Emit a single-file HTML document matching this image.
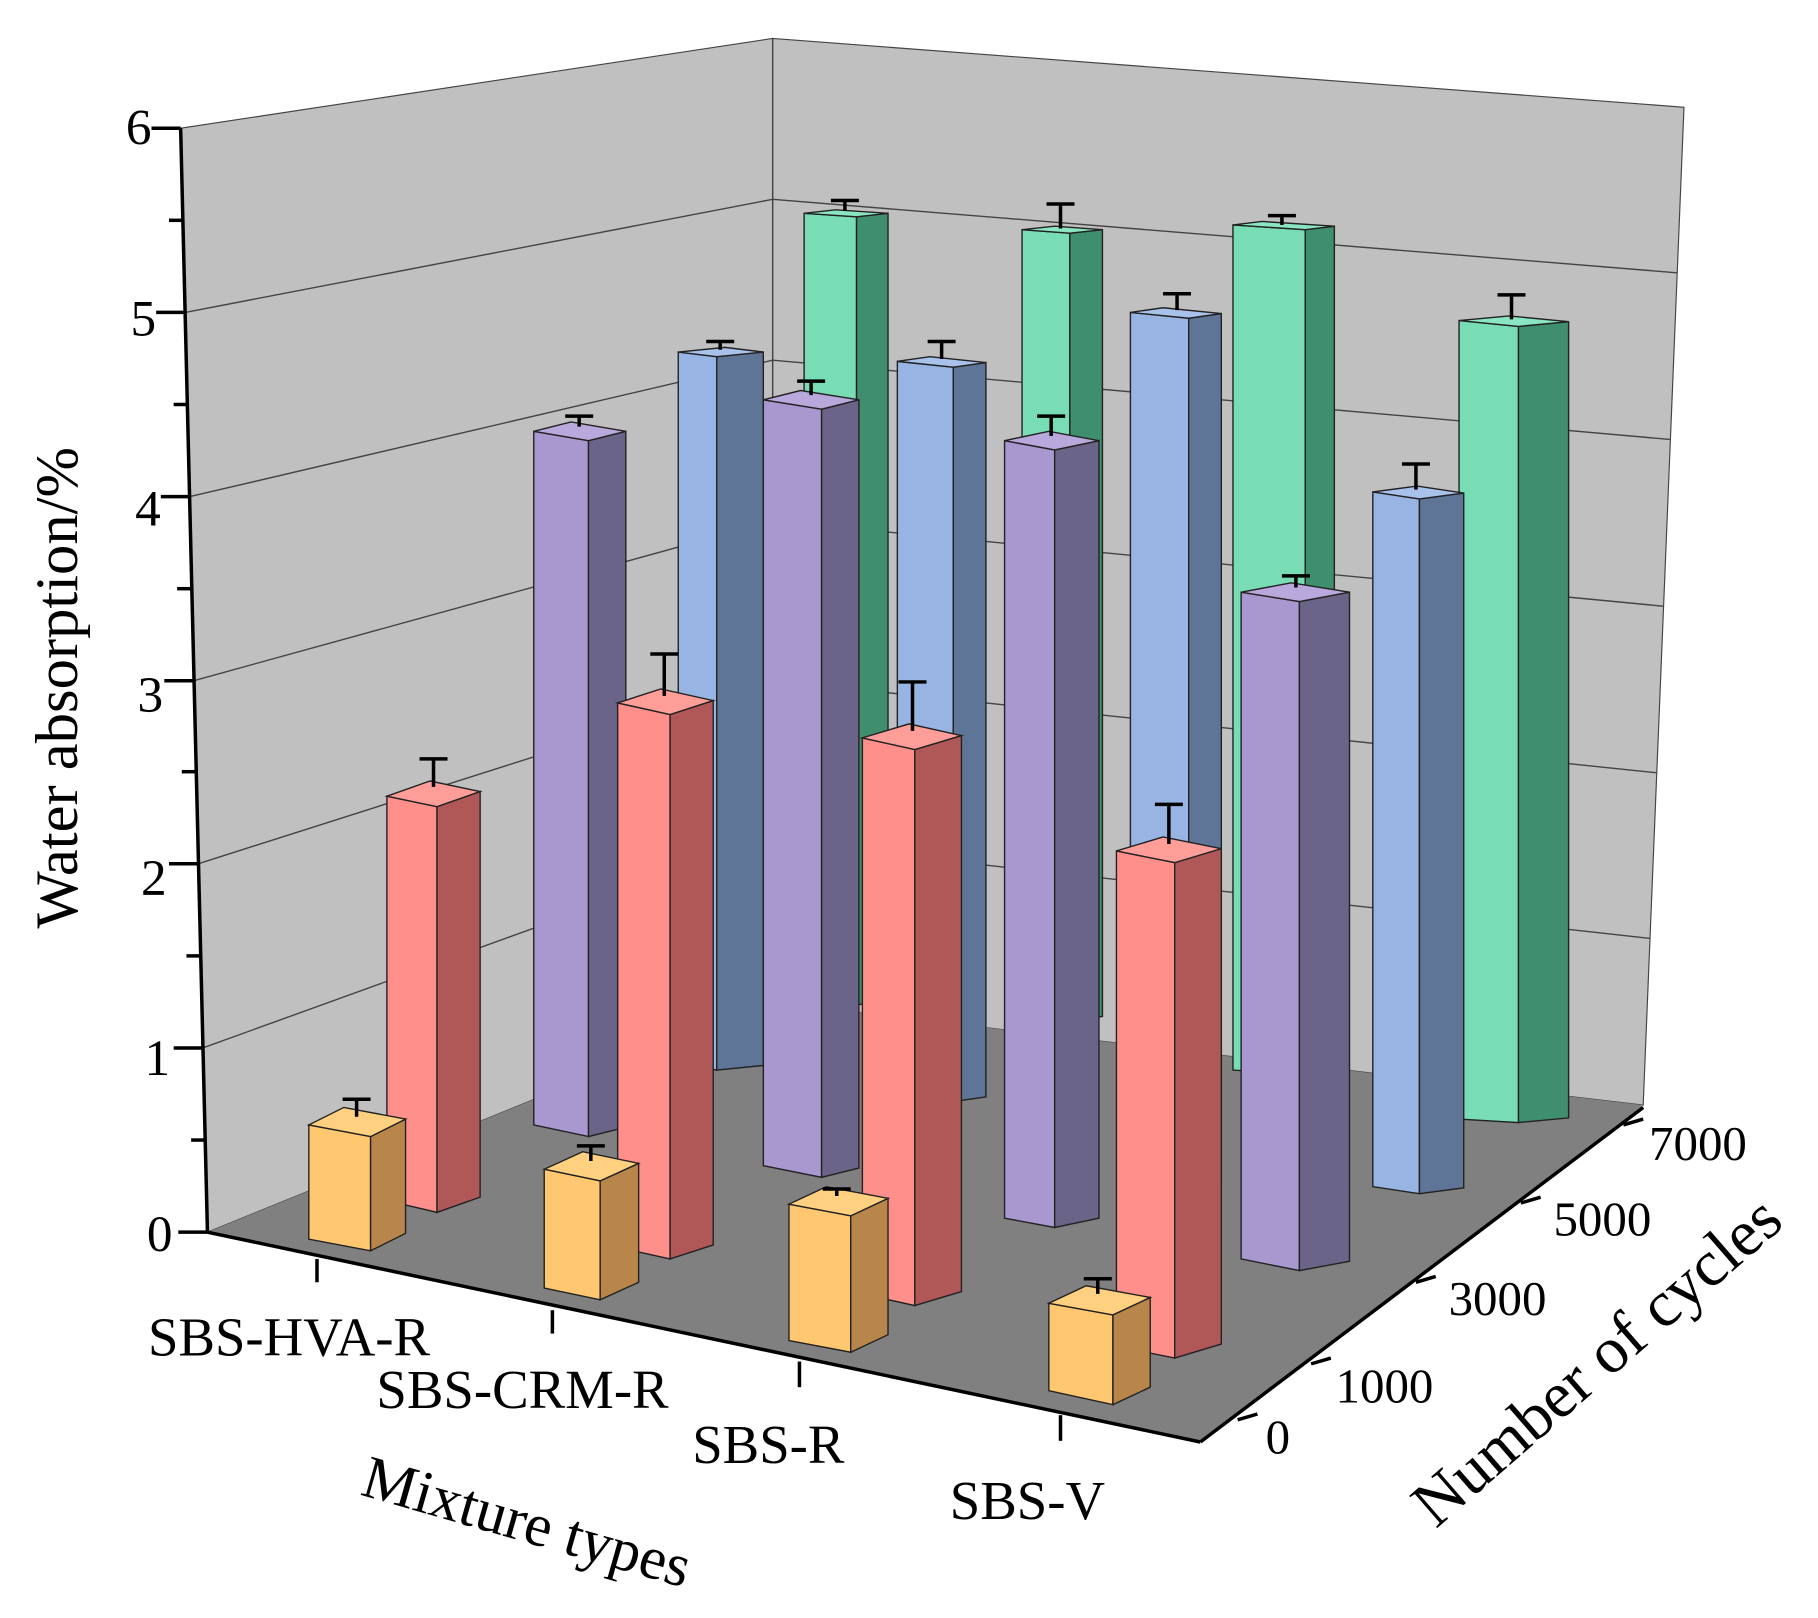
<!DOCTYPE html>
<html><head><meta charset="utf-8"><style>html,body{margin:0;padding:0;background:#fff}svg{display:block}</style></head>
<body>
<svg width="1818" height="1618" viewBox="0 0 1560 1388" preserveAspectRatio="none" xmlns="http://www.w3.org/2000/svg" font-family="Liberation Serif, serif">
<!-- walls -->
<polygon points="155,110 663,33 663,860 178,1057" fill="#c0c0c0" stroke="#444" stroke-width="1"/>
<polygon points="663,33 1445,92 1410,948 663,860" fill="#c0c0c0" stroke="#444" stroke-width="1"/>
<polygon points="178,1057 663,860 1410,948 1030,1237" fill="#808080"/>
<g stroke="#444" stroke-width="1.2" fill="none">
<polyline points="174,899 663,722 1416,805"/>
<polyline points="170,741 663,584 1422,663"/>
<polyline points="166,584 663,447 1427,520"/>
<polyline points="163,426 663,309 1433,377"/>
<polyline points="159,268 663,171 1439,234"/>
<line x1="663" y1="33" x2="663" y2="860"/>
</g>
<!-- axes -->
<g stroke="#000" stroke-width="3" fill="none">
<line x1="155" y1="110" x2="178" y2="1057"/>
<line x1="178" y1="1057" x2="1030" y2="1237"/>
<line x1="1030" y1="1237" x2="1410" y2="950"/>
<line x1="130" y1="110" x2="155" y2="110"/><line x1="134" y1="268" x2="159" y2="268"/>
<line x1="138" y1="426" x2="163" y2="426"/><line x1="141" y1="584" x2="166" y2="584"/>
<line x1="145" y1="741" x2="170" y2="741"/><line x1="149" y1="899" x2="174" y2="899"/>
<line x1="153" y1="1057" x2="178" y2="1057"/>
<line x1="145" y1="189" x2="157" y2="189"/><line x1="149" y1="347" x2="161" y2="347"/>
<line x1="152" y1="505" x2="164" y2="505"/><line x1="156" y1="662" x2="168" y2="662"/>
<line x1="160" y1="820" x2="172" y2="820"/><line x1="164" y1="978" x2="176" y2="978"/>
<line x1="272" y1="1080" x2="272" y2="1100"/><line x1="474" y1="1124" x2="474" y2="1144"/>
<line x1="686" y1="1168" x2="686" y2="1190"/><line x1="910" y1="1214" x2="910" y2="1236"/>
<line x1="1393" y1="965" x2="1410" y2="960"/><line x1="1305" y1="1032" x2="1322" y2="1027"/>
<line x1="1215" y1="1100" x2="1232" y2="1095"/><line x1="1125" y1="1170" x2="1142" y2="1165"/>
<line x1="1062" y1="1218" x2="1079" y2="1213"/>
</g>
<g font-size="44" fill="#000" text-anchor="end">
<text x="130" y="124">6</text><text x="134" y="288">5</text><text x="138" y="451">4</text>
<text x="140" y="611">3</text><text x="143" y="768">2</text><text x="146" y="922">1</text><text x="148" y="1073">0</text>
</g>
<g font-size="47" fill="#000">
<text x="127" y="1163">SBS-HVA-R</text><text x="323" y="1208">SBS-CRM-R</text>
<text x="594" y="1255">SBS-R</text><text x="815" y="1303">SBS-V</text>
</g>
<g font-size="42" fill="#000">
<text x="1415" y="995">7000</text><text x="1333" y="1060">5000</text><text x="1243" y="1128">3000</text>
<text x="1146" y="1203">1000</text><text x="1086" y="1247">0</text>
</g>
<text font-size="52" transform="translate(308,1282) rotate(16)">Mixture types</text>
<text font-size="56" transform="translate(1232,1312) rotate(-41)">Number of cycles</text>
<text font-size="52" text-anchor="middle" transform="translate(66,590) rotate(-90)">Water absorption/%</text>
<!-- bars -->
<g stroke="#222" stroke-width="1.2">
<polygon fill="#78ddb5" points="690,183 735,186 735,862 690,860"/><polygon fill="#3f8e6e" points="735,186 762,183 762,859 735,862"/><polygon fill="#8ae6c2" points="690,183 735,186 762,183 717,180"/>
<polygon fill="#78ddb5" points="877,197 918,200 918,875 877,872"/><polygon fill="#3f8e6e" points="918,200 946,197 946,872 918,875"/><polygon fill="#8ae6c2" points="877,197 918,200 946,197 905,194"/>
<polygon fill="#78ddb5" points="1058,193 1120,197 1120,922 1058,918"/><polygon fill="#3f8e6e" points="1120,197 1145,194 1145,919 1120,922"/><polygon fill="#8ae6c2" points="1058,193 1120,197 1145,194 1083,190"/>
<polygon fill="#78ddb5" points="1252,275 1303,280 1303,963 1252,960"/><polygon fill="#3f8e6e" points="1303,280 1346,276 1346,959 1303,963"/><polygon fill="#8ae6c2" points="1252,275 1303,280 1346,276 1295,271"/>
<polygon fill="#98b4e2" points="582,302 615,306 615,918 582,912"/><polygon fill="#5e7598" points="615,306 655,302 655,914 615,918"/><polygon fill="#a8c2ec" points="582,302 615,306 655,302 622,298"/>
<polygon fill="#98b4e2" points="770,310 818,315 818,945 770,940"/><polygon fill="#5e7598" points="818,315 846,311 846,941 818,945"/><polygon fill="#a8c2ec" points="770,310 818,315 846,311 798,306"/>
<polygon fill="#98b4e2" points="970,268 1020,273 1020,1015 970,1010"/><polygon fill="#5e7598" points="1020,273 1048,269 1048,1011 1020,1015"/><polygon fill="#a8c2ec" points="970,268 1020,273 1048,269 998,264"/>
<polygon fill="#98b4e2" points="1178,422 1218,428 1218,1024 1178,1018"/><polygon fill="#5e7598" points="1218,428 1256,423 1256,1019 1218,1024"/><polygon fill="#a8c2ec" points="1178,422 1218,428 1256,423 1216,417"/>
<polygon fill="#a898cf" points="458,370 505,378 505,975 458,965"/><polygon fill="#6a6488" points="505,378 537,370 537,967 505,975"/><polygon fill="#b8a8dc" points="458,370 505,378 537,370 490,362"/>
<polygon fill="#a898cf" points="655,343 705,351 705,1010 655,1000"/><polygon fill="#6a6488" points="705,351 737,343 737,1002 705,1010"/><polygon fill="#b8a8dc" points="655,343 705,351 737,343 687,335"/>
<polygon fill="#a898cf" points="862,378 905,386 905,1053 862,1045"/><polygon fill="#6a6488" points="905,386 943,378 943,1045 905,1053"/><polygon fill="#b8a8dc" points="862,378 905,386 943,378 900,370"/>
<polygon fill="#a898cf" points="1065,508 1115,516 1115,1090 1065,1080"/><polygon fill="#6a6488" points="1115,516 1158,508 1158,1082 1115,1090"/><polygon fill="#b8a8dc" points="1065,508 1115,516 1158,508 1108,500"/>
<polygon fill="#ff8f8a" points="332,683 375,692 375,1040 332,1030"/><polygon fill="#b05858" points="375,692 412,679 412,1027 375,1040"/><polygon fill="#ff9e99" points="332,683 375,692 412,679 369,670"/>
<polygon fill="#ff8f8a" points="530,603 575,613 575,1080 530,1070"/><polygon fill="#b05858" points="575,613 612,601 612,1068 575,1080"/><polygon fill="#ff9e99" points="530,603 575,613 612,601 567,591"/>
<polygon fill="#ff8f8a" points="740,633 785,643 785,1120 740,1110"/><polygon fill="#b05858" points="785,643 825,631 825,1108 785,1120"/><polygon fill="#ff9e99" points="740,633 785,643 825,631 780,621"/>
<polygon fill="#ff8f8a" points="958,730 1008,740 1008,1165 958,1155"/><polygon fill="#b05858" points="1008,740 1048,728 1048,1153 1008,1165"/><polygon fill="#ff9e99" points="958,730 1008,740 1048,728 998,718"/>
<polygon fill="#ffc870" points="265,965 318,975 318,1073 265,1063"/><polygon fill="#b8864a" points="318,975 348,960 348,1058 318,1073"/><polygon fill="#ffd080" points="265,965 318,975 348,960 295,950"/>
<polygon fill="#ffc870" points="467,1003 515,1013 515,1115 467,1105"/><polygon fill="#b8864a" points="515,1013 548,998 548,1100 515,1115"/><polygon fill="#ffd080" points="467,1003 515,1013 548,998 500,988"/>
<polygon fill="#ffc870" points="677,1033 730,1043 730,1160 677,1150"/><polygon fill="#b8864a" points="730,1043 762,1028 762,1145 730,1160"/><polygon fill="#ffd080" points="677,1033 730,1043 762,1028 709,1018"/>
<polygon fill="#ffc870" points="900,1118 955,1128 955,1205 900,1193"/><polygon fill="#b8864a" points="955,1128 987,1113 987,1190 955,1205"/><polygon fill="#ffd080" points="900,1118 955,1128 987,1113 932,1103"/>
</g>
<g stroke="#000" stroke-width="3" fill="none">
<path d="M725,181V172M713,172H737"/><path d="M910,196V175M898,175H922"/><path d="M1100,193V185M1088,185H1112"/><path d="M1297,274V253M1285,253H1309"/>
<path d="M618,300V293M606,293H630"/><path d="M808,308V293M796,293H820"/><path d="M1010,266V252M998,252H1022"/><path d="M1215,420V398M1203,398H1227"/>
<path d="M497,366V357M485,357H509"/><path d="M696,339V327M684,327H708"/><path d="M902,374V357M890,357H914"/><path d="M1112,504V494M1100,494H1124"/>
<path d="M372,675V651M360,651H384"/><path d="M570,597V561M558,561H582"/><path d="M783,627V585M771,585H795"/><path d="M1003,724V690M991,690H1015"/>
<path d="M306,958V943M294,943H318"/><path d="M507,996V983M495,983H519"/><path d="M718,1026V1020M706,1020H730"/><path d="M942,1110V1097M930,1097H954"/>
</g>
</svg>
</body></html>
